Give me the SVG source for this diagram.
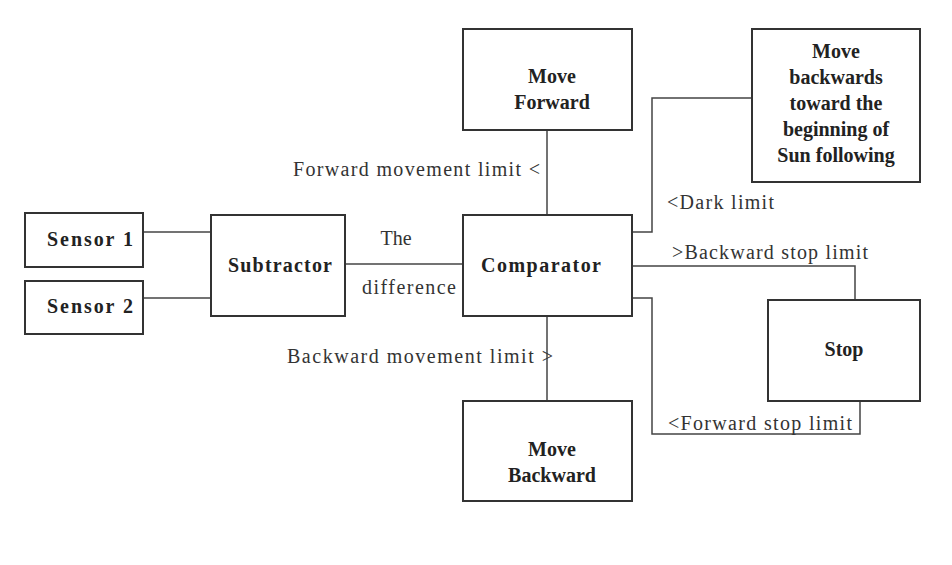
<svg xmlns="http://www.w3.org/2000/svg" width="952" height="565" viewBox="0 0 952 565">
<style>
.b{fill:#fff;stroke:#333;stroke-width:2}
.t{font-family:"Liberation Serif",serif;font-size:20px;font-weight:bold;fill:#222;text-anchor:middle}
.l{font-family:"Liberation Serif",serif;font-size:20px;fill:#333}
.c{fill:none;stroke:#444;stroke-width:1.5}
</style>
<rect width="952" height="565" fill="#fff"/>
<g id="connectors">
<line class="c" x1="143" y1="232" x2="211" y2="232"/>
<line class="c" x1="143" y1="298" x2="211" y2="298"/>
<line class="c" x1="345" y1="264" x2="463" y2="264" stroke-width="3"/>
<line class="c" x1="547" y1="130" x2="547" y2="215"/>
<line class="c" x1="547" y1="316" x2="547" y2="401"/>
<polyline class="c" points="632,232 652,232 652,98 752,98"/>
<polyline class="c" points="632,266 855,266 855,300" stroke-width="2.5"/>
<polyline class="c" points="632,298 652,298 652,434 860,434 860,401"/>
</g>
<g id="sensor1"><rect class="b" x="25" y="213" width="118" height="54"/><text class="t" x="90" y="246" textLength="86">Sensor 1</text></g>
<g id="sensor2"><rect class="b" x="25" y="281" width="118" height="53"/><text class="t" x="90" y="313" textLength="86">Sensor 2</text></g>
<g id="subtractor"><rect class="b" x="211" y="215" width="134" height="101"/><text class="t" x="280" y="272" textLength="104">Subtractor</text></g>
<g id="comparator"><rect class="b" x="463" y="215" width="169" height="101"/><text class="t" x="541" y="272" textLength="120">Comparator</text></g>
<g id="moveForward"><rect class="b" x="463" y="29" width="169" height="101"/><text class="t" x="552" y="83">Move</text><text class="t" x="552" y="109">Forward</text></g>
<g id="moveBackward"><rect class="b" x="463" y="401" width="169" height="100"/><text class="t" x="552" y="456">Move</text><text class="t" x="552" y="482">Backward</text></g>
<g id="moveBackwardsSun"><rect class="b" x="752" y="29" width="168" height="153"/>
<text class="t" x="836" y="58">Move</text><text class="t" x="836" y="84">backwards</text><text class="t" x="836" y="110">toward the</text><text class="t" x="836" y="136">beginning of</text><text class="t" x="836" y="162">Sun following</text></g>
<g id="stop"><rect class="b" x="768" y="300" width="152" height="101"/><text class="t" x="844" y="356">Stop</text></g>
<g id="labels">
<text class="l" x="293" y="176" textLength="247">Forward movement limit &lt;</text>
<text class="l" x="287" y="363" textLength="266">Backward movement limit &gt;</text>
<text class="l" x="667" y="209" textLength="107">&lt;Dark limit</text>
<text class="l" x="672" y="259" textLength="196">&gt;Backward stop limit</text>
<text class="l" x="668" y="430" textLength="184">&lt;Forward stop limit</text>
<text class="l" x="396" y="245" text-anchor="middle">The</text>
<text class="l" x="409" y="294" text-anchor="middle" textLength="94">difference</text>
</g>
</svg>
